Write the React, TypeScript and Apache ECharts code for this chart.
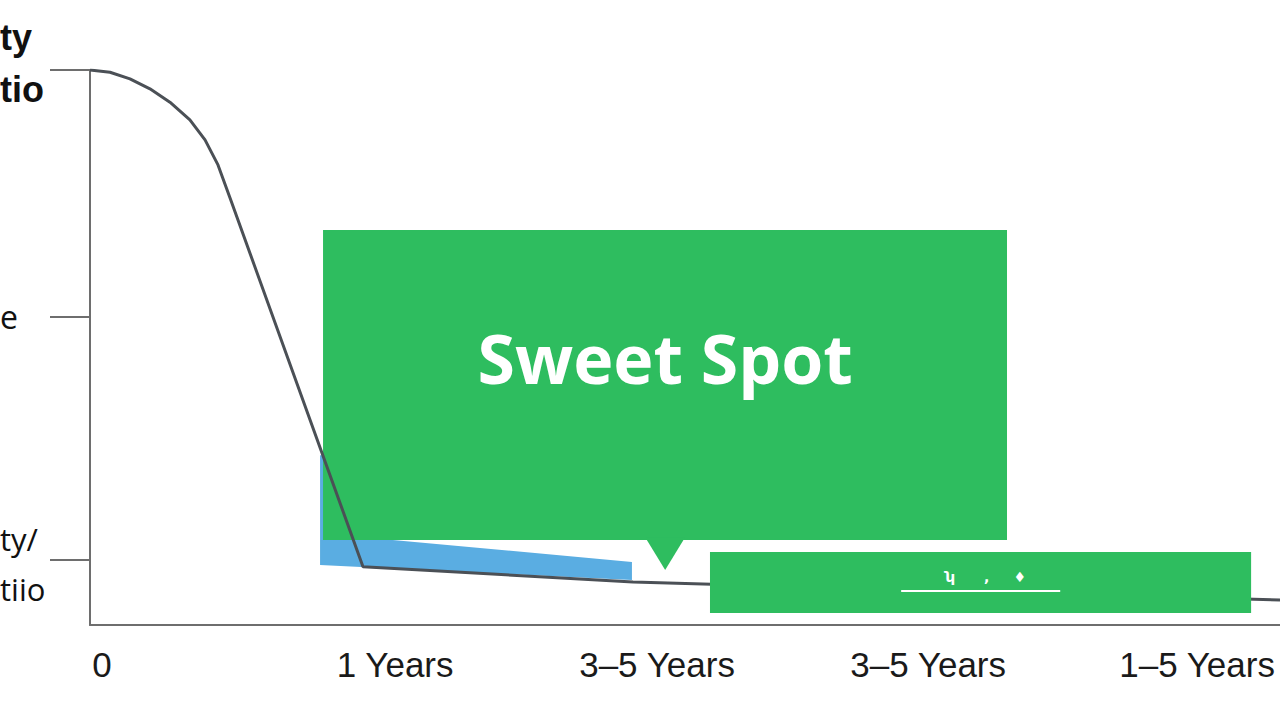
import React, { useEffect, useRef } from "react";
import * as echarts from "echarts";

// Curve (data units: x in "year slots", y in 0..100 liquidity score)
const curveX = [0, 0.074, 0.148, 0.222, 0.296, 0.37, 0.426, 0.474, 0.519, 1.011, 2.011, 4.407];
const curveY = [100, 99.6, 98.4, 96.6, 94.2, 91.0, 87.4, 82.9, 76.9, 10.5, 7.75, 4.5];

// Axis ticks and labels (the y labels are the fragments visible at the left edge)
const xTickValues = [0.044, 1.13, 2.1, 3.104, 4.1];
const xTickLabels = ["0", "1 Years", "3–5 Years", "3–5 Years", "1–5 Years"];
const yTickValues = [11.7, 55.5, 100];
const yTickLabels = ["ty/\ntiio", "e", "ty\ntio"];

// Annotation shapes (data units)
const blueX = [0.852, 0.852, 2.007, 2.007, 1.0, 1.0];
const blueY = [30.6, 10.8, 8.1, 11.35, 15.86, 30.6];
const bigBoxX = [0.863, 3.396];
const bigBoxY = [15.32, 71.17];
const pointerX = [2.056, 2.204, 2.13];
const pointerY = [15.8, 15.8, 9.91];
const smallBoxX = [2.296, 4.3];
const smallBoxY = [2.16, 13.15];
const sweetSpotLabel = "Sweet Spot";
const sweetSpotAt = [2.13, 48.2];
const smallUnderlineX = [3.004, 3.593];
const smallUnderlineY = 6.13;

const GREEN = "#2ebd5f";
const BLUE = "#5aade2";
const LINE = "#4b5056";
const AXIS = "#6e6e6e";

export default function App() {
  const ref = useRef<HTMLDivElement>(null);
  useEffect(() => {
    if (!ref.current) return;
    const chart = echarts.init(ref.current, undefined, { renderer: "svg" });
    const option: any = {
      animation: false,
      backgroundColor: "#ffffff",
      grid: { left: 90, right: 0, top: 70, bottom: 95, containLabel: false, outerBoundsMode: "none" },
      xAxis: {
        type: "value",
        min: 0,
        max: 4.407,
        splitLine: { show: false },
        axisLine: { show: true, lineStyle: { color: AXIS, width: 2 } },
        axisTick: { show: false },
        axisLabel: {
          customValues: xTickValues,
          formatter: (v: number) => {
            const i = xTickValues.findIndex((t) => Math.abs(t - v) < 1e-6);
            return i >= 0 ? xTickLabels[i] : "";
          },
          margin: 22,
          color: "#1a1a1a",
          fontSize: 35,
          fontFamily: "'Liberation Sans', Arial, sans-serif",
          showMinLabel: true,
          showMaxLabel: true,
          hideOverlap: false,
        },
      },
      yAxis: {
        type: "value",
        min: 0,
        max: 100,
        splitLine: { show: false },
        axisLine: { show: true, lineStyle: { color: AXIS, width: 2 } },
        axisTick: {
          show: true,
          customValues: yTickValues,
          length: 40,
          lineStyle: { color: AXIS, width: 2 },
        },
        axisLabel: {
          customValues: yTickValues,
          margin: 90,
          align: "left",
          formatter: (v: number) => {
            const i = yTickValues.findIndex((t) => Math.abs(t - v) < 1e-6);
            if (i < 0) return "";
            const lines = yTickLabels[i].split("\n");
            if (i === 2) return lines.map((s) => `{b|${s}}`).join("\n") + "\n{s| }";
            if (i === 1) return `{m|${lines[0]}}`;
            return "{s2| }\n" + lines.map((s) => `{r|${s}}`).join("\n");
          },
          rich: {
            b: { fontSize: 36, fontWeight: "bold", lineHeight: 52, color: "#111", fontFamily: "'Liberation Sans', Arial, sans-serif" },
            m: { fontSize: 32, color: "#111", fontFamily: "'Open Sans', sans-serif" },
            r: { fontSize: 31, lineHeight: 50, color: "#111", fontFamily: "'Open Sans', sans-serif" },
            s: { fontSize: 1, lineHeight: 14 },
            s2: { fontSize: 1, lineHeight: 8 },
          },
        },
      },
      series: [
        {
          type: "custom",
          coordinateSystem: "cartesian2d",
          z: 1,
          silent: true,
          data: [[blueX[0], blueY[0]]],
          renderItem: (_p: any, api: any) => ({
            type: "polygon",
            shape: { points: blueX.map((x, i) => api.coord([x, blueY[i]])) },
            style: { fill: BLUE },
          }),
        },
        {
          type: "custom",
          coordinateSystem: "cartesian2d",
          z: 2,
          silent: true,
          data: [[bigBoxX[0], bigBoxY[0]]],
          renderItem: (_p: any, api: any) => {
            const a = api.coord([bigBoxX[0], bigBoxY[1]]);
            const b = api.coord([bigBoxX[1], bigBoxY[0]]);
            const t = api.coord(sweetSpotAt);
            return {
              type: "group",
              children: [
                { type: "rect", shape: { x: a[0], y: a[1], width: b[0] - a[0], height: b[1] - a[1] }, style: { fill: GREEN } },
                { type: "polygon", shape: { points: pointerX.map((x, i) => api.coord([x, pointerY[i]])) }, style: { fill: GREEN } },
                {
                  type: "text",
                  x: t[0],
                  y: t[1],
                  style: {
                    text: sweetSpotLabel,
                    fill: "#ffffff",
                    fontSize: 68,
                    fontWeight: "bold",
                    fontFamily: "'Open Sans', 'Noto Sans', sans-serif",
                    align: "center",
                    verticalAlign: "middle",
                  },
                },
              ],
            };
          },
        },
        {
          type: "line",
          z: 3,
          silent: true,
          showSymbol: false,
          smooth: false,
          data: curveX.map((x, i) => [x, curveY[i]]),
          lineStyle: { color: LINE, width: 3 },
        },
        {
          type: "custom",
          coordinateSystem: "cartesian2d",
          z: 4,
          silent: true,
          data: [[smallBoxX[0], smallBoxY[0]]],
          renderItem: (_p: any, api: any) => {
            const a = api.coord([smallBoxX[0], smallBoxY[1]]);
            const b = api.coord([smallBoxX[1], smallBoxY[0]]);
            const u0 = api.coord([smallUnderlineX[0], smallUnderlineY]);
            const u1 = api.coord([smallUnderlineX[1], smallUnderlineY]);
            return {
              type: "group",
              children: [
                { type: "rect", shape: { x: a[0], y: a[1], width: b[0] - a[0], height: b[1] - a[1] }, style: { fill: GREEN } },
                { type: "line", shape: { x1: u0[0], y1: u0[1], x2: u1[0], y2: u1[1] }, style: { stroke: "#ffffff", lineWidth: 2 } },
                {
                  type: "text",
                  x: (u0[0] + u1[0]) / 2 + 5,
                  y: u0[1] - 14,
                  style: {
                    text: "ʮ      ,     ♦",
                    fill: "#ffffff",
                    fontSize: 14,
                    fontWeight: "bold",
                    fontFamily: "'DejaVu Sans', sans-serif",
                    align: "center",
                    verticalAlign: "middle",
                  },
                },
              ],
            };
          },
        },
      ],
    };
    chart.setOption(option);
    return () => chart.dispose();
  }, []);
  return (
    <div
      ref={ref}
      style={{ position: "fixed", left: 0, top: 0, width: 1280, height: 720, background: "#fff" }}
    />
  );
}
